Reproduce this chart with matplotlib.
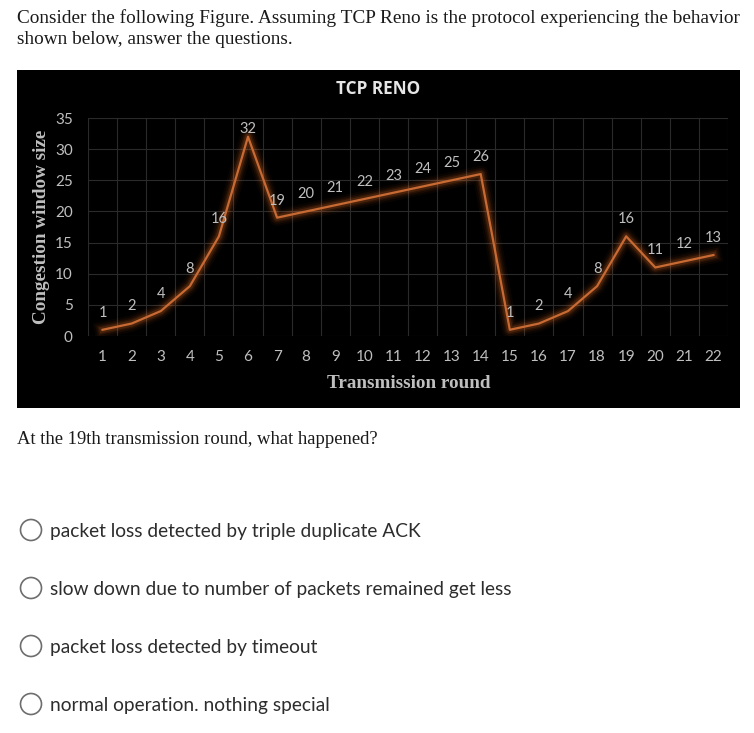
import matplotlib
matplotlib.use("Agg")
import matplotlib.pyplot as plt
import matplotlib.patches as mpatches
from matplotlib.transforms import IdentityTransform

# ── Data ─────────────────────────────────────────────────────────────────────
rounds = list(range(1, 23))
cwnd = [1, 2, 4, 8, 16, 32, 19, 20, 21, 22, 23, 24, 25, 26, 1, 2, 4, 8, 16, 11, 12, 13]
y_ticks = [0, 5, 10, 15, 20, 25, 30, 35]

intro_lines = [
    "Consider the following Figure. Assuming TCP Reno is the protocol experiencing the behavior",
    "shown below, answer the questions.",
]
question = "At the 19th transmission round, what happened?"
options = [
    "packet loss detected by triple duplicate ACK",
    "slow down due to number of packets remained get less",
    "packet loss detected by timeout",
    "normal operation. nothing special",
]

# ── Layout helpers (pixel -> figure fraction) ────────────────────────────────
W, H = 754, 733
def fx(px):
    return px / W
def fy(py):
    return 1 - py / H

bg = "#000000"
grid_col = "#2a2a2a"
txt_col = "#bfbfbf"
line_col = "#c86a34"

fig = plt.figure(figsize=(W / 100, H / 100), dpi=100)
fig.patch.set_facecolor("white")

# black chart panel
fig.add_artist(mpatches.Rectangle((fx(17), fy(408)), fx(740) - fx(17), fy(70) - fy(408),
                                  transform=fig.transFigure, facecolor=bg, edgecolor="none", zorder=0))

# ── Chart ────────────────────────────────────────────────────────────────────
ax = fig.add_axes([fx(88), fy(336), fx(728) - fx(88), fy(118) - fy(336)])
ax.set_facecolor(bg)
ax.set_xlim(0.5, 22.5)
ax.set_ylim(0, 35)

for xb in [r + 0.5 for r in range(0, 23)]:
    ax.axvline(xb, color=grid_col, linewidth=0.8, zorder=1)
for yv in y_ticks:
    ax.axhline(yv, color=grid_col if yv else "#363636", linewidth=0.8, zorder=1)

# soft orange glow round the line
for lw, a in [(12, 0.04), (9, 0.06), (6.5, 0.09), (4.5, 0.14)]:
    ax.plot(rounds, cwnd, color="#ff7a2a", linewidth=lw, alpha=a, solid_joinstyle="round", zorder=2)
ax.plot(rounds, cwnd, color=line_col, linewidth=1.6, zorder=3)

for r, v in zip(rounds, cwnd):
    ly = min(v + 2.75, 33.2)
    ax.text(r, ly, str(v), color=txt_col, fontsize=10.5, family="Lato",
            ha="center", va="center", zorder=4)

ax.set_xticks(rounds)
ax.set_yticks(y_ticks)
ax.tick_params(length=0, colors=txt_col, labelsize=11)
ax.tick_params(axis="x", pad=10)
ax.tick_params(axis="y", pad=11)
for lab in ax.get_xticklabels() + ax.get_yticklabels():
    lab.set_family("Lato")
for s in ax.spines.values():
    s.set_visible(False)

fig.text(fx(378), fy(89), "TCP RENO", color="#e6e6e6", fontsize=12.3, fontweight="bold",
         family="Open Sans", ha="center", va="center")
fig.text(fx(409), fy(383), "Transmission round", color=txt_col, fontsize=13.8, fontweight="bold",
         family="Liberation Serif", ha="center", va="center")
fig.text(fx(42), fy(227), "Congestion window size", color=txt_col, fontsize=13.8, fontweight="bold",
         family="Liberation Serif", ha="center", va="center", rotation=90)

# ── Surrounding quiz text ────────────────────────────────────────────────────
fig.text(fx(17), fy(18), intro_lines[0], color="#1a1a1a", fontsize=13.9,
         family="Liberation Serif", ha="left", va="center")
fig.text(fx(17), fy(40), intro_lines[1], color="#1a1a1a", fontsize=13.9,
         family="Liberation Serif", ha="left", va="center")
fig.text(fx(17), fy(439), question, color="#1a1a1a", fontsize=13.4,
         family="Liberation Serif", ha="left", va="center")

for i, opt in enumerate(options):
    yc = 530 + 58 * i
    fig.add_artist(mpatches.Circle((31, H - yc), 10.5, transform=IdentityTransform(),
                                   facecolor="white", edgecolor="#6e6e6e", linewidth=1.2))
    fig.text(fx(50), fy(yc + 2), opt, color="#2d2d2d", fontsize=13.8, family="Lato",
             ha="left", va="center")

fig.savefig("out.png", dpi=100, facecolor="white")
